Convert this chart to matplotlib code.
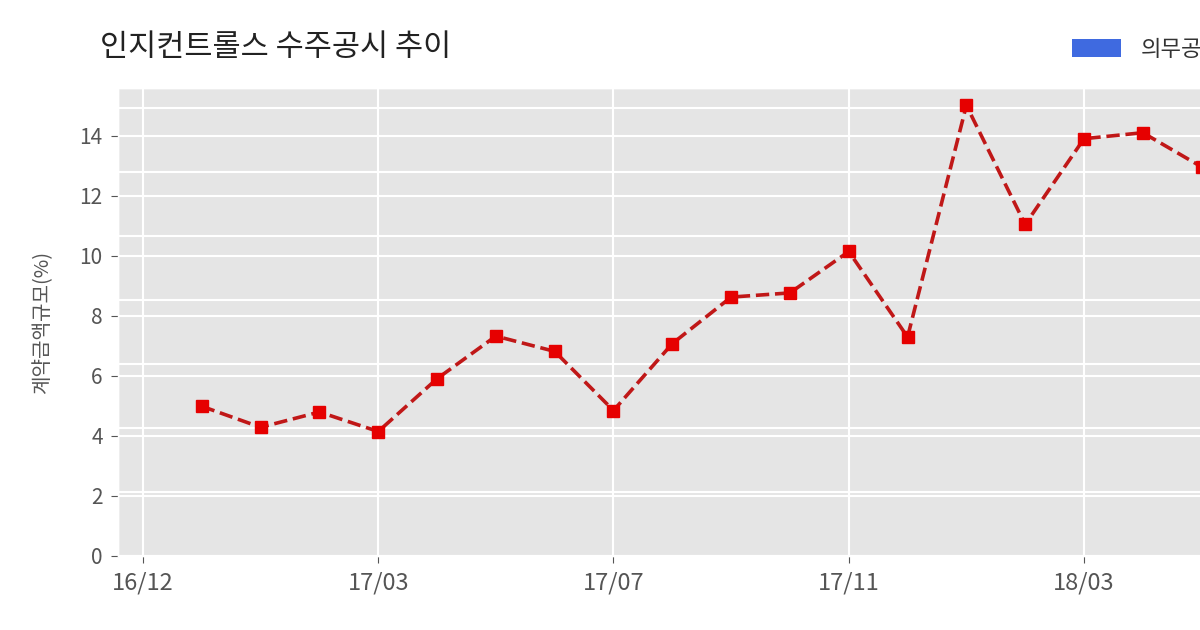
import matplotlib
matplotlib.use("Agg")
import matplotlib.pyplot as plt
import matplotlib.ticker as mtick
from matplotlib.patches import Patch

plt.style.use("ggplot")
plt.rcParams["font.family"] = ["Noto Sans CJK KR", "DejaVu Sans"]

# data (only the visible part of the chart)
title = "인지컨트롤스 수주공시 추이"
yLabel = "계약금액규모(%)"
barLabel = "의무공시"

pointPos = list(range(1, 19))
ratio = [4.99, 4.29, 4.80, 4.15, 5.91, 7.33, 6.82, 4.85, 7.08,
         8.63, 8.77, 10.15, 7.30, 15.02, 11.05, 13.91, 14.11, 12.97]

tickPos = [0, 4, 8, 12, 16]
tickLabels = ["16/12", "17/03", "17/07", "17/11", "18/03"]

grey = "#555555"

fig = plt.figure(figsize=(12, 6.3), dpi=100)
W, H = 1200, 630

# axes run past the right edge of the picture, as in the cropped reference
left, right, top, bottom = 118, 1260, 88, 556
ax2 = fig.add_axes([left / W, 1 - bottom / H, (right - left) / W, (bottom - top) / H])
ax = ax2.twinx()
ax.set_zorder(ax2.get_zorder() + 1)
ax.patch.set_visible(False)

# bar axis (its bars lie outside the visible part); it owns the x axis
ax2.set_ylim(0, 7.31)
ax2.yaxis.set_major_locator(mtick.MultipleLocator(1))
ax2.yaxis.tick_right()
ax2.grid(True, color="white", linewidth=1.5)
ax2.tick_params(axis="y", labelright=False, right=False)
ax2.set_xticks(tickPos, labels=tickLabels)
ax2.tick_params(axis="x", labelsize=17, colors=grey, length=5, pad=6, direction="out")

# line axis on the left
ax.yaxis.tick_left()
ax.yaxis.set_label_position("left")
ax.plot(pointPos, ratio, linestyle="--", color="#c01818", linewidth=2.6,
        marker="s", markersize=8, markerfacecolor="#e60000", markeredgecolor="#e60000")
ax.set_ylim(0, 15.6)
ax.set_xlim(-0.425, (right - 143) / ((1084 - 143) / 16))
ax.set_yticks(range(0, 16, 2))
ax.grid(True, color="white", linewidth=1.5)

ax.tick_params(axis="y", labelsize=15, colors=grey, length=5, pad=6, direction="out")
ax.set_ylabel(yLabel, fontsize=14.5, color=grey)
ax.yaxis.set_label_coords(-0.057, 0.5)

fig.text(100 / W, 1 - 47 / H, title, fontsize=22, color="#222222", va="center", ha="left")

handles = [Patch(facecolor="#3f6ae0", edgecolor="none", label=barLabel)]
fig.legend(handles=handles, loc="center left", bbox_to_anchor=(1072 / W, 1 - 49 / H),
           frameon=False, fontsize=16, borderpad=0, borderaxespad=0,
           handlelength=2.2, handleheight=0.85, handletextpad=0.9, labelcolor="#333333")

fig.savefig("out.png", dpi=100)
